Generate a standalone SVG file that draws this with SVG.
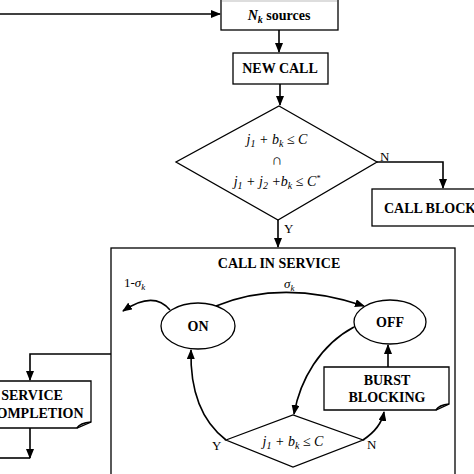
<svg xmlns="http://www.w3.org/2000/svg" width="474" height="474" viewBox="0 0 474 474">
<style>
.box{fill:#fff;stroke:#000;stroke-width:1.3}
.ln{fill:none;stroke:#000;stroke-width:1.6}
.b{font-family:"Liberation Serif",serif;font-weight:bold;font-size:14px;fill:#000;text-anchor:middle}
.m{font-family:"Liberation Serif",serif;font-style:italic;font-size:14px;fill:#000;text-anchor:middle}
.r{font-family:"Liberation Serif",serif;font-size:13px;fill:#000}
</style>
<defs>
<marker id="ah" markerWidth="10" markerHeight="8" refX="9" refY="4" orient="auto" markerUnits="userSpaceOnUse">
<path d="M0,0 L10,4 L0,8 Z" fill="#000"/>
</marker>
</defs>
<rect x="0" y="0" width="474" height="474" fill="#fff"/>
<g id="sources">
<rect x="221" y="-2" width="117" height="32" class="box"/>
<rect x="222" y="0" width="115" height="2" fill="#ddd"/>
<text x="279" y="20" class="b"><tspan font-style="italic">N</tspan><tspan font-style="italic" font-size="10" dy="3">k</tspan><tspan dy="-3"> sources</tspan></text>
</g>
<g id="newcall">
<rect x="233" y="53" width="95" height="31" class="box"/>
<text x="280" y="73" class="b">NEW CALL</text>
</g>
<g id="decision1">
<polygon points="279,106 377,162 278,220 176,162" class="box"/>
<text x="277" y="144" class="m">j<tspan font-size="10" dy="3">1</tspan><tspan dy="-3"> + b</tspan><tspan font-size="10" dy="3">k</tspan><tspan dy="-3" font-style="normal"> ≤ </tspan>C</text>
<text x="277" y="165" class="r" style="text-anchor:middle;font-size:15px">∩</text>
<text x="277" y="186" class="m">j<tspan font-size="10" dy="3">1</tspan><tspan dy="-3"> + j</tspan><tspan font-size="10" dy="3">2</tspan><tspan dy="-3"> +b</tspan><tspan font-size="10" dy="3">k</tspan><tspan dy="-3" font-style="normal"> ≤ </tspan>C<tspan font-size="8" dy="-5">*</tspan></text>
</g>
<g id="callblock">
<rect x="372" y="189" width="110" height="37" class="box"/>
<text x="384" y="213" class="b" style="text-anchor:start">CALL BLOCK</text>
</g>
<g id="callinservice">
<rect x="111" y="248" width="344" height="240" class="box"/>
<text x="279" y="268" class="b">CALL IN SERVICE</text>
</g>
<g id="on">
<ellipse cx="198" cy="326" rx="37" ry="23" class="box"/>
<text x="198" y="331" class="b">ON</text>
</g>
<g id="off">
<ellipse cx="390" cy="322" rx="36" ry="22" class="box"/>
<text x="390" y="327" class="b">OFF</text>
</g>
<g id="burstblocking">
<path d="M324,367 H449 V404 L436,410 H324 Z" class="box"/>
<path d="M436,410 Q439,405 449,404" class="ln" stroke-width="1"/>
<text x="387" y="385" class="b">BURST</text>
<text x="387" y="402" class="b">BLOCKING</text>
</g>
<g id="decision2">
<polygon points="226,440 293,415 363,440 293,467" class="box"/>
<text x="293" y="446" class="m">j<tspan font-size="10" dy="3">1</tspan><tspan dy="-3"> + b</tspan><tspan font-size="10" dy="3">k</tspan><tspan dy="-3" font-style="normal"> ≤ </tspan>C</text>
</g>
<g id="servicecompletion">
<path d="M-5,381 H91 V422 L77,428 H-5 Z" class="box"/>
<path d="M77,428 Q80,423 91,422" class="ln" stroke-width="1"/>
<text x="32" y="400" class="b">SERVICE</text>
<text x="35" y="418" class="b">COMPLETION</text>
</g>
<g id="connectors">
<line x1="0" y1="14" x2="220" y2="14" class="ln" marker-end="url(#ah)"/>
<line x1="279" y1="30" x2="279" y2="52" class="ln" marker-end="url(#ah)"/>
<line x1="280" y1="84" x2="280" y2="105" class="ln" marker-end="url(#ah)"/>
<polyline points="377,162 443,162 443,188" class="ln" marker-end="url(#ah)"/>
<line x1="278" y1="220" x2="278" y2="247" class="ln" marker-end="url(#ah)"/>
<path d="M170,310 C160,298 145,296 123,311" class="ln" marker-end="url(#ah)"/>
<path d="M216,306 C260,288 310,288 364,306" class="ln" marker-end="url(#ah)"/>
<path d="M354,327 C320,345 300,380 294,414" class="ln" marker-end="url(#ah)"/>
<path d="M226,440 C200,420 190,390 191,350" class="ln" marker-end="url(#ah)"/>
<path d="M363,440 C375,432 382,423 384,412" class="ln" marker-end="url(#ah)"/>
<line x1="388" y1="367" x2="388" y2="345" class="ln" marker-end="url(#ah)"/>
<polyline points="111,354 30,354 30,380" class="ln" marker-end="url(#ah)"/>
<line x1="30" y1="428" x2="30" y2="458" class="ln" marker-end="url(#ah)"/>
<line x1="0" y1="458" x2="30" y2="458" class="ln" stroke-width="1.2"/>
</g>
<g id="labels">
<text x="380" y="161" class="r">N</text>
<text x="284" y="233" class="r">Y</text>
<text x="124" y="287" class="r">1-<tspan font-style="italic">σ</tspan><tspan font-style="italic" font-size="9" dy="3">k</tspan></text>
<text x="284" y="288" class="r" font-style="italic">σ<tspan font-size="9" dy="3">k</tspan></text>
<text x="212" y="450" class="r">Y</text>
<text x="367" y="449" class="r">N</text>
</g>
</svg>
